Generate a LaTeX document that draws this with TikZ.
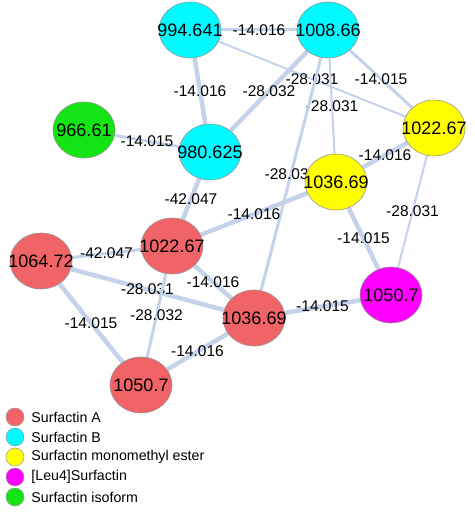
\documentclass[tikz,border=0pt]{standalone}
\usepackage{fontspec}
\setmainfont{Liberation Sans}
\usetikzlibrary{shapes.geometric, positioning, backgrounds}
\definecolor{surfa}{RGB}{240,100,104}
\definecolor{surfb}{RGB}{0,250,255}
\definecolor{surfme}{RGB}{255,255,0}
\definecolor{surfleu}{RGB}{255,0,255}
\definecolor{surfiso}{RGB}{20,228,20}
\definecolor{linkblue}{RGB}{196,211,234}
\definecolor{rimgray}{RGB}{150,150,150}

\begin{document}
\begin{tikzpicture}[
    x=1pt, y=-1pt,
    mass/.style={ellipse, draw=rimgray, line width=0.6pt, minimum width=62pt, minimum height=56pt, inner sep=0pt,
        label={[font=\fontsize{18}{18}\selectfont, inner sep=0pt]center:#1}},
    link/.style={draw=linkblue, line width=3pt},
    thinlink/.style={draw=linkblue, line width=2pt},
    boldlink/.style={draw=linkblue, line width=4.5pt},
    diff/.style={font=\fontsize{15.5}{16}\selectfont, inner sep=0pt},
    lgdot/.style={circle, draw=rimgray, line width=0.5pt, minimum size=18pt, inner sep=0pt},
    lgtext/.style={font=\fontsize{14.2}{15}\selectfont, inner sep=0pt, anchor=west},
]
    \useasboundingbox (0,0) rectangle (474,521);

    % masses
    \node[mass=994.641, fill=surfb] (b1) at (190,30) {};
    \node[mass=1008.66, fill=surfb] (b2) at (328,30) {};
    \node[mass=966.61, fill=surfiso] (g1) at (84,130) {};
    \node[mass=980.625, fill=surfb] (b3) at (210,152) {};
    \node[mass=1022.67, fill=surfme] (y1) at (434,128) {};
    \node[mass=1036.69, fill=surfme] (y2) at (336,182) {};
    \node[mass=1022.67, fill=surfa] (a1) at (172,246) {};
    \node[mass=1064.72, fill=surfa] (a2) at (41,261) {};
    \node[mass=1036.69, fill=surfa] (a3) at (254,318) {};
    \node[mass=1050.7, fill=surfa] (a4) at (141,385) {};
    \node[mass=1050.7, fill=surfleu] (m1) at (391,295) {};

    % mass differences
    \begin{scope}[on background layer]
        \draw[link] (b1) -- node[diff] {-14.016} (b2);
        \draw[boldlink] (b1) -- node[diff] {-14.016} (b3);
        \draw[boldlink] (b2) -- node[diff] {-28.032} (b3);
        \draw[thinlink] (b1) -- node[diff] {-28.031} (y1);
        \draw[thinlink] (b2) -- node[diff] {-28.031} (y2);
        \draw[link] (b2) -- node[diff] {-14.015} (y1);
        \draw[link] (b2) -- node[diff] {-28.031} (a3);
        \draw[link] (g1) -- node[diff] {-14.015} (b3);
        \draw[boldlink] (b3) -- node[diff] {-42.047} (a1);
        \draw[boldlink] (a1) -- node[diff] {-14.016} (y2);
        \draw[boldlink] (y1) -- node[diff] {-14.016} (y2);
        \draw[thinlink] (y1) -- node[diff] {-28.031} (m1);
        \draw[boldlink] (y2) -- node[diff] {-14.015} (m1);
        \draw[link] (a2) -- node[diff] {-42.047} (a1);
        \draw[boldlink] (a2) -- node[diff] {-28.031} (a3);
        \draw[boldlink] (a1) -- node[diff] {-14.016} (a3);
        \draw[link] (a1) -- node[diff] {-28.032} (a4);
        \draw[boldlink] (a2) -- node[diff] {-14.015} (a4);
        \draw[boldlink] (a3) -- node[diff] {-14.016} (a4);
        \draw[boldlink] (a3) -- node[diff] {-14.015} (m1);
    \end{scope}

    % legend
    \node[lgdot, fill=surfa] (k1) at (15,417) {};
    \node[lgdot, fill=surfb] (k2) at (15,437) {};
    \node[lgdot, fill=surfme] (k3) at (15,457) {};
    \node[lgdot, fill=surfleu] (k4) at (15,477) {};
    \node[lgdot, fill=surfiso] (k5) at (15,497) {};
    \node[lgtext, right=7pt of k1] (t1) {Surfactin A};
    \node[lgtext, right=7pt of k2] (t2) {Surfactin B};
    \node[lgtext, right=7pt of k3] (t3) {Surfactin monomethyl ester};
    \node[lgtext, right=7pt of k4] (t4) {[Leu4]Surfactin};
    \node[lgtext, right=7pt of k5] (t5) {Surfactin isoform};
\end{tikzpicture}
\end{document}
